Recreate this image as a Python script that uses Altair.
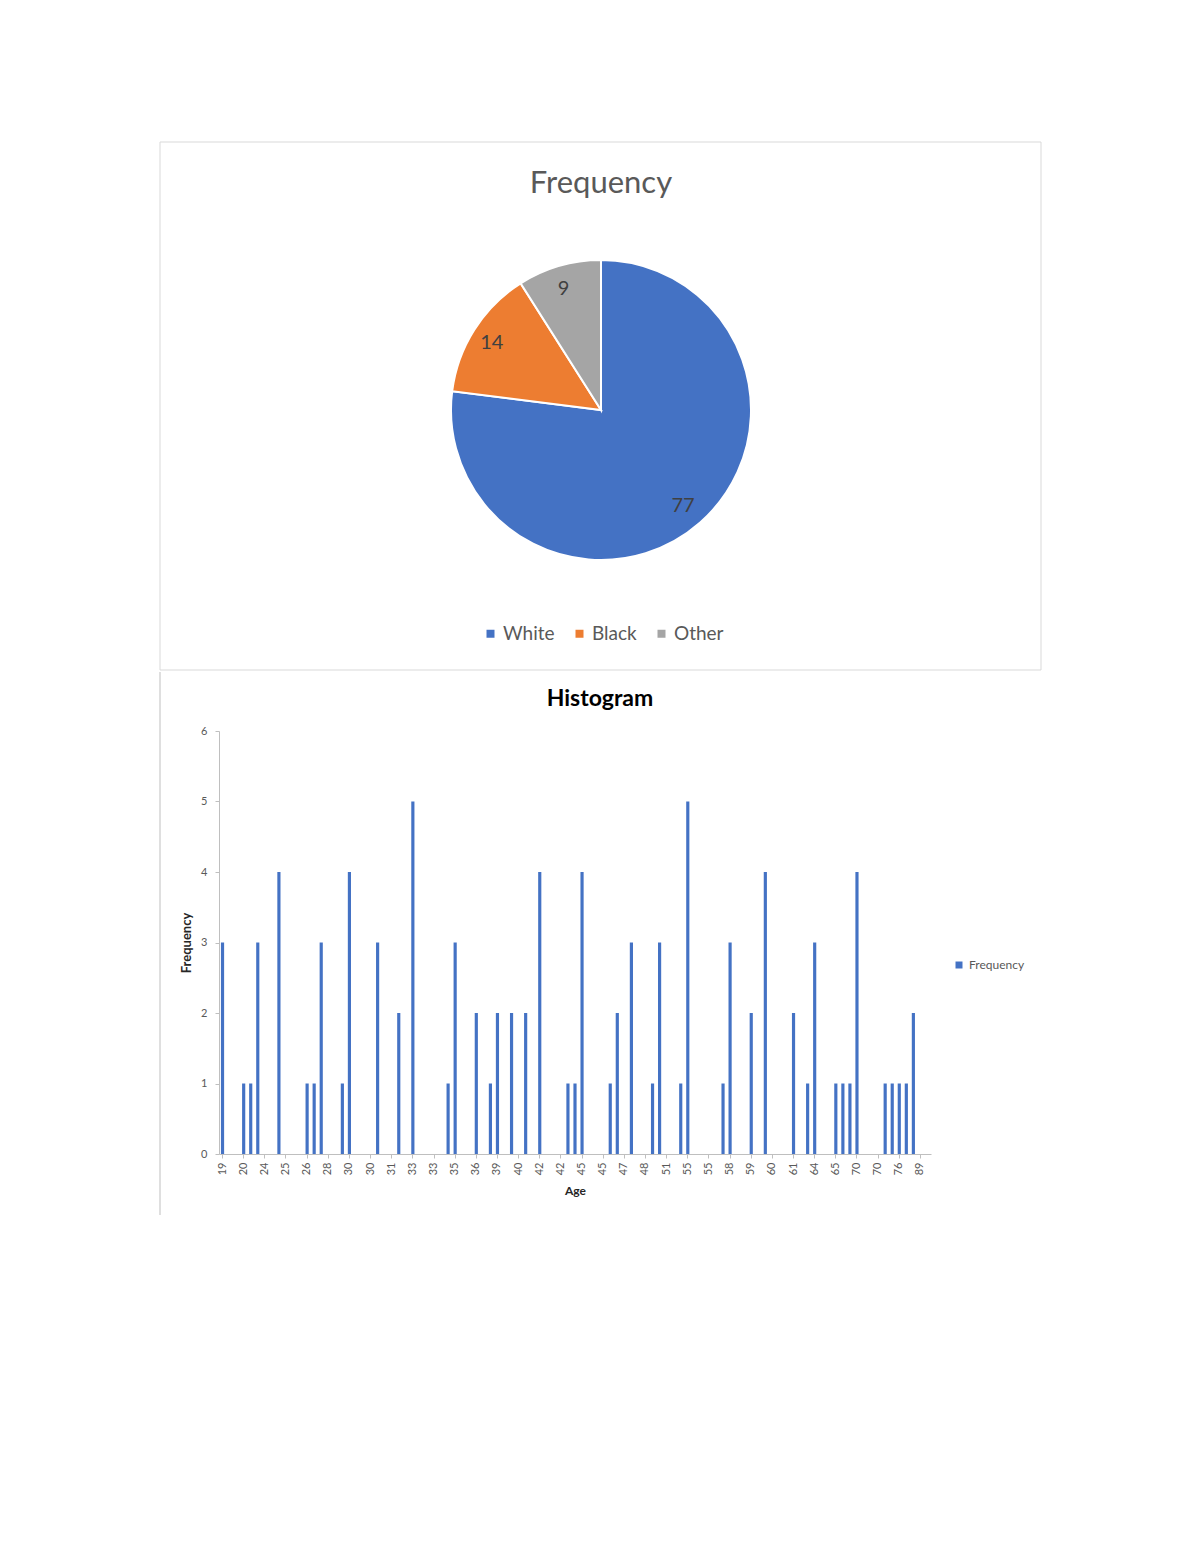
import altair as alt
import pandas as pd

# ---------------- data ----------------
races = ["White", "Black", "Other"]
race_counts = [77, 14, 9]
race_colors = ["#4472c4", "#ed7d31", "#a5a5a5"]

N = None
# one category per data row (Analysis ToolPak style), plus the trailing "More" bin
bins = ["19", "19", "19", "20", "22", "24", "24", "24", "25", "25", "25", "25", "26", "27",
        "28", "28", "28", "29", "30", "30", "30", "30", "31", "31", "31", "32", "32", "33",
        "33", "33", "33", "33", "34", "35", "35", "35", "36", "36", "38", "39", "39", "40",
        "40", "41", "41", "42", "42", "42", "42", "43", "44", "45", "45", "45", "45", "46",
        "47", "47", "48", "48", "48", "50", "51", "51", "51", "53", "55", "55", "55", "55",
        "55", "57", "58", "58", "58", "59", "59", "60", "60", "60", "60", "61", "61", "63",
        "64", "64", "64", "65", "67", "68", "70", "70", "70", "70", "73", "75", "76", "78",
        "89", "89", "More"]
frequency = [3, N, N, 1, 1, 3, N, N, 4, N, N, N, 1, 1, 3, N, N, 1, 4, N,
             N, N, 3, N, N, 2, N, 5, N, N, N, N, 1, 3, N, N, 2, N, 1, 2,
             N, 2, N, 2, N, 4, N, N, N, 1, 1, 4, N, N, N, 1, 2, N, 3, N,
             N, 1, 3, N, N, 1, 5, N, N, N, N, 1, 3, N, N, 2, N, 4, N, N,
             N, 2, N, 1, 3, N, N, 1, 1, 1, 4, N, N, N, 1, 1, 1, 1, 2, N, 0]

pie_df = pd.DataFrame({"race": races, "count": race_counts, "pos": list(range(len(races)))})
hist_df = pd.DataFrame({
    "row": list(range(len(bins))),
    "bin": bins,
    "frequency": frequency,
    "series": ["Frequency"] * len(bins),
})

FONT = "Lato"
GREY = "#595959"

# ---------------- pie panel ----------------
PIE_CX, PIE_CY = 382, 268

box = alt.Chart(alt.Data(values=[{}])).mark_rect(
    fill="transparent", stroke="#d9d9d9", strokeWidth=1
).encode(x=alt.value(-59), x2=alt.value(822), y=alt.value(0), y2=alt.value(528))

pie_base = alt.Chart(pie_df).encode(
    theta=alt.Theta("count:Q", stack=True),
    order=alt.Order("pos:Q"),
)

arc = pie_base.mark_arc(outerRadius=150, stroke="white", strokeWidth=2).encode(
    color=alt.Color(
        "race:N",
        scale=alt.Scale(domain=races, range=race_colors),
        legend=alt.Legend(
            title=None, orient="none", legendX=262, legendY=482,
            direction="horizontal", symbolType="square", symbolSize=64,
            symbolStrokeWidth=0, labelFontSize=19, labelFont=FONT,
            labelColor=GREY, columnPadding=15, labelOffset=3,
        ),
    ),
    x=alt.value(PIE_CX),
    y=alt.value(PIE_CY),
)

pie_labels = pie_base.mark_text(radius=127, fontSize=20, font=FONT, color="#404040").encode(
    text="count:Q",
    x=alt.value(PIE_CX - 2),
    y=alt.value(PIE_CY + 1),
)

pie_title = alt.Chart(alt.Data(values=[{}])).mark_text(
    fontSize=31, font=FONT, color=GREY
).encode(text=alt.value("Frequency"), x=alt.value(PIE_CX), y=alt.value(42))

pie_panel = alt.layer(box, arc, pie_labels, pie_title).properties(width=712, height=528)

# ---------------- histogram panel ----------------
label_expr = "[" + ",".join("'%s'" % b for b in bins) + "][datum.value]"

bars = alt.Chart(hist_df).mark_bar().encode(
    x=alt.X(
        "row:O",
        scale=alt.Scale(domain=hist_df["row"].tolist(), paddingInner=0.55, paddingOuter=0.275),
        axis=alt.Axis(
            values=hist_df["row"].tolist()[:-1:3], labelExpr=label_expr, labelAngle=270,
            title="Age", labelFontSize=11, labelFont=FONT, labelColor=GREY,
            titleFont=FONT, titleFontSize=12, titleFontWeight="bold", titleColor="#262626",
            titlePadding=11, labelPadding=4, tickSize=4, tickColor="#bfbfbf",
            domainColor="#bfbfbf", grid=False,
        ),
    ),
    y=alt.Y(
        "frequency:Q",
        scale=alt.Scale(domain=[0, 6]),
        axis=alt.Axis(
            values=[0, 1, 2, 3, 4, 5, 6], title="Frequency", grid=False,
            labelFontSize=11, labelFont=FONT, labelColor=GREY, labelPadding=8,
            tickSize=4, tickColor="#bfbfbf", domainColor="#bfbfbf",
            titleFont=FONT, titleFontSize=13, titleFontWeight="bold",
            titleColor="#262626", titlePadding=7,
        ),
    ),
    color=alt.Color(
        "series:N",
        scale=alt.Scale(range=["#4472c4"]),
        legend=alt.Legend(
            title=None, orient="none", legendX=734, legendY=228,
            symbolType="square", symbolSize=49, symbolStrokeWidth=0,
            labelFontSize=12, labelFont=FONT, labelColor=GREY, labelOffset=4,
        ),
    ),
)

left_line = alt.Chart(alt.Data(values=[{}])).mark_rule(color="#bfbfbf", strokeWidth=1).encode(
    x=alt.value(-59), y=alt.value(-59), y2=alt.value(484)
)

hist_title = alt.Chart(alt.Data(values=[{}])).mark_text(
    fontSize=23, fontWeight="bold", font=FONT, color="#000000"
).encode(text=alt.value("Histogram"), x=alt.value(381), y=alt.value(-32))

hist_panel = alt.layer(left_line, bars, hist_title).properties(width=712, height=423)

chart = alt.vconcat(pie_panel, hist_panel, spacing=0).resolve_scale(
    color="independent"
).properties(
    padding={"left": 151, "top": 133, "right": 10, "bottom": 10}
).configure_view(stroke="transparent")

chart.save("out.html", embed_options={"renderer": "svg", "actions": False})
